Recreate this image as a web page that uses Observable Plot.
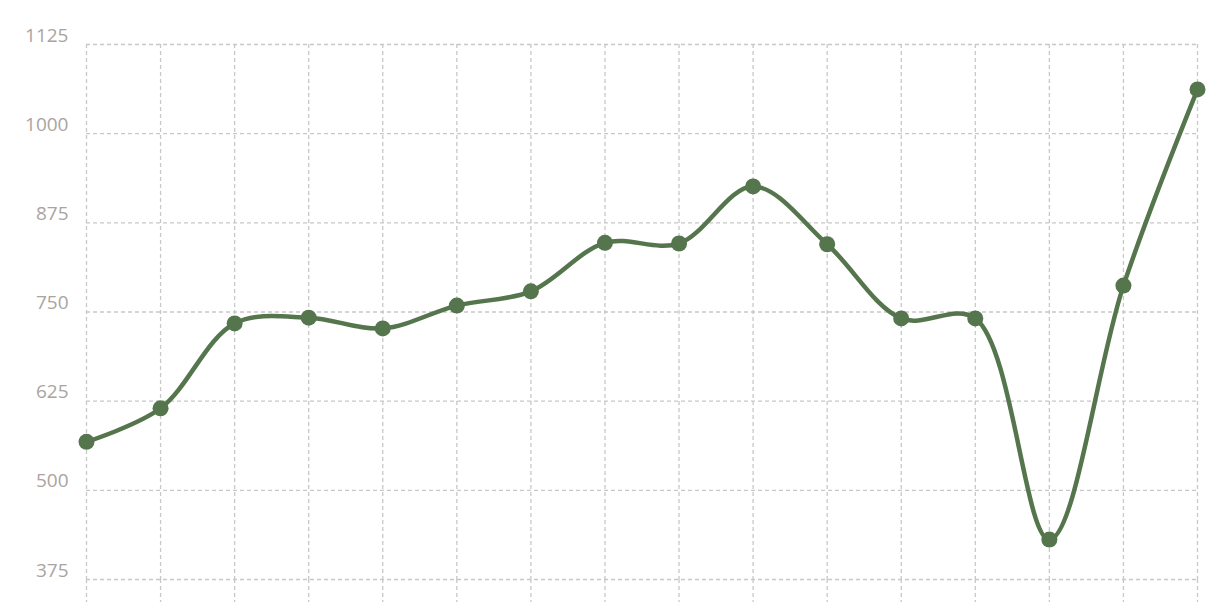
<!DOCTYPE html>
<html>
<head>
<meta charset="utf-8">
<script src="https://cdn.jsdelivr.net/npm/d3@7"></script>
<script src="https://cdn.jsdelivr.net/npm/@observablehq/plot@0.6"></script>
<style>
  html, body { margin: 0; padding: 0; background: #fff; }
  #chart { width: 1219px; height: 602px; overflow: hidden; }
</style>
</head>
<body>
<div id="chart"></div>
<script>
const indices = d3.range(1, 17);
const values = [568, 615, 734, 742, 727, 759, 779, 847, 846, 926, 845, 741, 741, 431, 787, 1062];
const yTicks = [375, 500, 625, 750, 875, 1000, 1125];

const data = indices.map((i, k) => ({ i, v: values[k] }));
const lineColor = "#55754d";
const gridColor = "#c8c8c8";

const chart = Plot.plot({
  width: 1219,
  height: 602,
  marginLeft: 86,
  marginRight: 22,
  marginTop: 44,
  marginBottom: 23,
  style: { fontFamily: "'Open Sans', sans-serif", background: "#fff" },
  x: { domain: [1, 16] },
  y: { domain: [375, 1125] },
  marks: [
    Plot.gridY(yTicks, { stroke: gridColor, strokeOpacity: 1, strokeDasharray: "4,3", strokeWidth: 1.3 }),
    Plot.gridX(indices, { stroke: gridColor, strokeOpacity: 1, strokeDasharray: "4,3", strokeWidth: 1.3 }),
    Plot.axisX(indices, { tickSize: 23, stroke: gridColor, strokeDasharray: "4,3", strokeWidth: 1.3, tickFormat: () => "", label: null }),
    Plot.axisY(yTicks, { tickSize: 0, tickPadding: 18, dy: -9, fontSize: 19, fill: "#aaa49f", tickFormat: d => String(d), label: null }),
    Plot.line(data, { x: "i", y: "v", stroke: lineColor, strokeWidth: 4.5, curve: "catmull-rom" }),
    Plot.dot(data, { x: "i", y: "v", r: 8, fill: lineColor, stroke: "none" })
  ]
});
document.getElementById("chart").appendChild(chart);
</script>
</body>
</html>
